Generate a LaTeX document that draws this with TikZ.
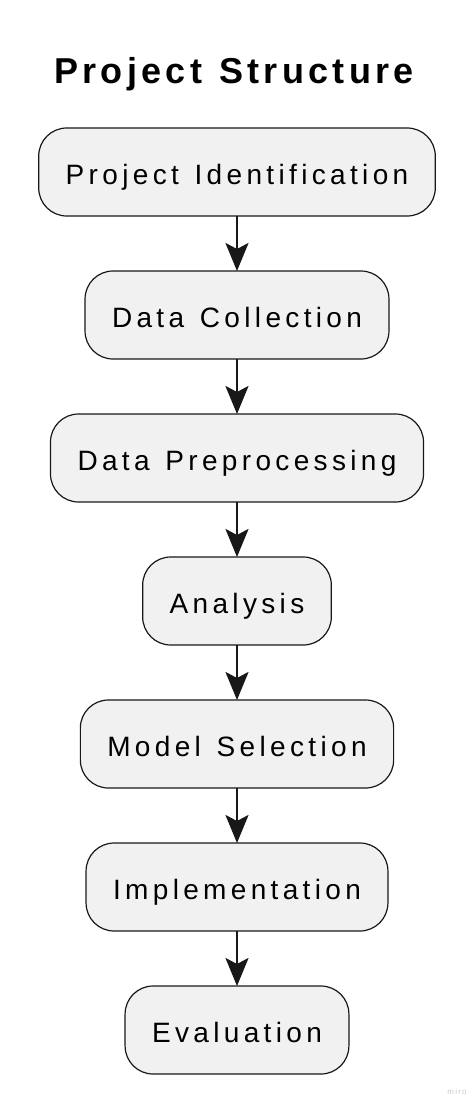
\documentclass[tikz,border=0pt]{standalone}
\usepackage{fontspec}
\setmainfont{Liberation Sans}[LetterSpace=15.5, WordSpace=1.3]
\newfontfamily\titlefont{Liberation Sans}[LetterSpace=12, WordSpace=1.2]
\usetikzlibrary{positioning,arrows.meta}
\definecolor{boxfill}{HTML}{F1F1F1}
\definecolor{edgecol}{HTML}{181818}

\begin{document}
\begin{tikzpicture}[
		stage/.style={draw=edgecol, line width=0.6bp, fill=boxfill, rounded corners=14bp, minimum height=44bp, inner xsep=13.5bp, outer sep=0pt, text height=13bp, text depth=1bp, font=\fontsize{14bp}{16bp}\selectfont},
		flow/.style={-{Stealth[length=14bp, width=11.5bp, inset=3bp]}, draw=edgecol, line width=1.3bp},
		node distance=27.5bp
	]
		\useasboundingbox (-118.5bp, 37bp) rectangle (118.5bp, -515bp);
		\node (title) at (-1.5bp, 0) {\titlefont\fontsize{18bp}{20bp}\selectfont\bfseries Project Structure};
		
		\node[stage] (ident) at (0, -49bp) {Project Identification};
		\node[stage, below=of ident] (collect) {Data Collection};
		\node[stage, below=of collect] (prep) {Data Preprocessing};
		\node[stage, below=of prep] (analysis) {Analysis};
		\node[stage, below=of analysis] (model) {Model Selection};
		\node[stage, below=of model] (impl) {Implementation};
		\node[stage, below=of impl] (eval) {Evaluation};
		
		\draw[flow] (ident) -- (collect);
		\draw[flow] (collect) -- (prep);
		\draw[flow] (prep) -- (analysis);
		\draw[flow] (analysis) -- (model);
		\draw[flow] (model) -- (impl);
		\draw[flow] (impl) -- (eval);
		
		\node[text=black!22, font=\fontsize{4bp}{5bp}\selectfont] (mark) at (110bp, -509bp) {miro};
	\end{tikzpicture}
\end{document}
